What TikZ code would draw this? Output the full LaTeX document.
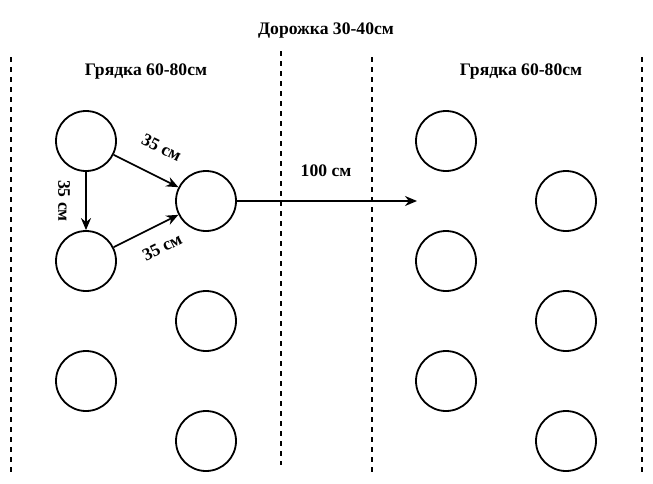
\documentclass[tikz,border=0pt]{standalone}
\usepackage{fontspec}
\setmainfont{Liberation Serif}
\usetikzlibrary{arrows.meta}
\begin{document}
\begin{tikzpicture}[x=1pt,y=-1pt,
  bed/.style={draw, circle, line width=1.8pt, minimum size=60pt, inner sep=0pt},
  sep/.style={line width=1.5pt, dash pattern=on 5pt off 5pt},
  arr/.style={line width=1.6pt, -{Stealth[length=12pt,width=10pt]}},
  lbl/.style={font=\bfseries\fontsize{17.6}{20}\selectfont, inner sep=1pt}]
\useasboundingbox (0,0) rectangle (653,483);
% separators
\coordinate (s1t) at (11,57); \coordinate (s1b) at (11,473);
\coordinate (s2t) at (281,51); \coordinate (s2b) at (281,465);
\coordinate (s3t) at (372,57); \coordinate (s3b) at (372,473);
\coordinate (s4t) at (642,57); \coordinate (s4b) at (642,473);
\draw[sep] (s1t) -- (s1b);
\draw[sep] (s2t) -- (s2b);
\draw[sep] (s3t) -- (s3b);
\draw[sep] (s4t) -- (s4b);
% titles
\node[lbl] (path) at (326,31) {Дорожка 30-40см};
\node[lbl] (bedL) at (146,72) {Грядка 60-80см};
\node[lbl] (bedR) at (521,72) {Грядка 60-80см};
% left bed circles
\node[bed] (a1) at (86,141) {};
\node[bed] (a2) at (206,201) {};
\node[bed] (a3) at (86,261) {};
\node[bed] (a4) at (206,321) {};
\node[bed] (a5) at (86,381) {};
\node[bed] (a6) at (206,441) {};
% right bed circles
\node[bed] (b1) at (446,141) {};
\node[bed] (b2) at (566,201) {};
\node[bed] (b3) at (446,261) {};
\node[bed] (b4) at (566,321) {};
\node[bed] (b5) at (446,381) {};
\node[bed] (b6) at (566,441) {};
% arrows
\draw[arr] (a1) -- (a2) node[lbl, pos=0.55, above, sloped, yshift=20pt] {35 см};
\draw[arr] (a3) -- (a2) node[lbl, pos=0.6, below, sloped, yshift=-14pt] {35 см};
\draw[arr] (a1) -- (a3);
\node[lbl, rotate=-90] (v35) at (64,201) {35 см};
\coordinate (tip) at (417,201);
\draw[arr] (a2) -- (tip);
\node[lbl] (l100) at (326,171) {100 см};
\end{tikzpicture}
\end{document}
